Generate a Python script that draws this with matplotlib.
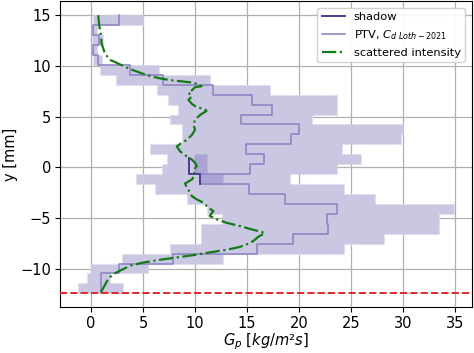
import numpy as np
import matplotlib
matplotlib.use('Agg')
import matplotlib.pyplot as plt

# bin edges along y [mm] (28 bins, top to bottom)
y_edges = [15.0, 14.02, 13.04, 12.06, 11.08, 10.1, 9.12, 8.14, 7.16, 6.18,
           5.2, 4.22, 3.24, 2.26, 1.28, 0.3, -0.68, -1.66, -2.64, -3.62,
           -4.6, -5.58, -6.56, -7.54, -8.52, -9.5, -10.48, -11.46, -12.44]

# PTV flux profile and its uncertainty band
ptv_gp = [2.7, 0.22, 0.8, 0.22, 0.7, 3.75, 6.9, 11.76, 15.5, 17.4,
          14.4, 20.0, 19.2, 14.9, 16.6, 15.3, 10.5, 15.2, 18.65, 23.6,
          22.7, 22.8, 19.4, 15.9, 7.9, 2.7, 0.93, 0.93]
ptv_low = [0.22, 0.06, 0.06, 0.06, 0.22, 0.87, 2.4, 6.3, 7.4, 8.4,
           7.6, 8.7, 8.7, 5.7, 7.3, 6.8, 4.3, 6.2, 9.2, 11.1,
           12.6, 10.6, 10.6, 7.6, 3.0, 0.0, -0.42, -1.22]
ptv_high = [4.97, 0.55, 1.12, 0.55, 1.03, 6.57, 11.44, 17.2, 23.6, 23.6,
            21.2, 30.0, 29.8, 24.1, 25.9, 23.6, 19.1, 24.3, 27.3, 34.9,
            33.4, 33.4, 28.1, 24.3, 12.7, 5.5, 1.83, 3.1]

# shadowgraphy profile
shadow_edges = [0.95, -0.68, -1.66]
shadow_gp = [9.4, 10.5]
shadow_band_edges = [1.28, 0.3, -0.68, -1.66]
shadow_low = [9.9, 9.9, 10.5]
shadow_high = [11.1, 11.1, 12.7]

# scattered intensity profile
scat_y = [15.0, 14.0, 13.2, 12.2, 11.2, 10.6, 10.25, 9.75, 9.33, 9.0,
          8.77, 8.6, 8.45, 8.35, 8.0, 7.9, 7.6, 7.37, 7.0, 6.65,
          6.25, 5.92, 5.75, 5.56, 5.17, 4.7, 4.2, 3.7, 3.2, 2.7,
          2.4, 2.06, 1.57, 1.08, 0.75, 0.43, 0.1, -0.3, -0.72, -1.2,
          -1.6, -2.0, -2.45, -2.85, -3.17, -3.5, -4.0, -4.32, -4.8, -5.14,
          -5.47, -5.8, -6.12, -6.38, -6.5, -6.84, -7.27, -7.6, -7.86, -8.15,
          -8.4, -8.67, -8.9, -9.13, -9.4, -9.72, -10.2, -10.54, -11.0, -11.6,
          -12.2, -12.44]
scat_gp = [0.7, 0.8, 0.93, 1.03, 1.35, 1.83, 2.6, 3.6, 4.7, 5.67,
           6.63, 7.6, 8.9, 9.84, 10.64, 10.0, 9.7, 9.36, 9.7, 9.36,
           9.7, 10.16, 10.9, 11.1, 10.5, 10.0, 9.84, 10.0, 9.7, 9.2,
           8.72, 8.24, 8.56, 9.2, 9.7, 10.0, 10.16, 9.84, 10.0, 9.7,
           9.04, 9.2, 9.5, 9.7, 10.16, 10.8, 11.3, 11.76, 11.4, 12.1,
           13.0, 14.3, 15.4, 16.4, 16.7, 16.1, 15.6, 14.97, 14.3, 13.0,
           11.4, 9.84, 8.24, 6.63, 5.03, 3.75, 2.8, 2.15, 1.67, 1.35,
           1.03, 0.93]

wall_y = -12.44


def steps(edges, vals):
    ys = np.repeat(np.asarray(edges, float), 2)[1:-1]
    xs = np.repeat(np.asarray(vals, float), 2)
    return xs, ys


fig, ax = plt.subplots(figsize=(4.74, 3.53), dpi=100)
fig.subplots_adjust(left=0.127, right=0.996, top=0.997, bottom=0.13)

ax.grid(True, color='#b0b0b0', lw=0.9)
ax.set_axisbelow(True)

# PTV band + line
lo, yb = steps(y_edges, ptv_low)
hi, _ = steps(y_edges, ptv_high)
ax.fill_betweenx(yb, lo, hi, facecolor='#cac7e3', edgecolor='#dcd9ee',
                 linestyle=':', lw=0.8, zorder=2)

# shadow band
slo, ysb = steps(shadow_band_edges, shadow_low)
shi, _ = steps(shadow_band_edges, shadow_high)
ax.fill_betweenx(ysb, slo, shi, facecolor='#aaa4d2', edgecolor='#b8b3dc',
                 linestyle=':', lw=0.8, zorder=2)

xs, ys = steps(shadow_edges, shadow_gp)
ax.plot(xs, ys, color='#4b3b96', lw=1.4, label='shadow', zorder=4)

xp, yp = steps(y_edges, ptv_gp)
ax.plot(xp, yp, color='#8f87c4', lw=1.2,
        label=r'PTV, $C_{d\ Loth-2021}$', zorder=3)

ax.plot(scat_gp, scat_y, color='#157a15', ls='-.', lw=1.6,
        label='scattered intensity', zorder=5)

ax.axhline(wall_y, color='#e0262b', ls='--', lw=1.4, zorder=5)

ax.set_xlim(-2.95, 36.6)
ax.set_ylim(-13.8, 16.4)
ax.set_xticks(np.arange(0, 36, 5))
ax.set_yticks(np.arange(-10, 16, 5))
ax.tick_params(labelsize=10.5, pad=3)
ax.set_xlabel(r'$G_p$ $[kg/m²s]$', fontsize=10.5, labelpad=0)
ax.set_ylabel('y [mm]', fontsize=10.5, labelpad=2)

ax.legend(loc='upper right', fontsize=8.2, framealpha=0.9,
          borderaxespad=0.6)

fig.savefig('out.png', dpi=100)
